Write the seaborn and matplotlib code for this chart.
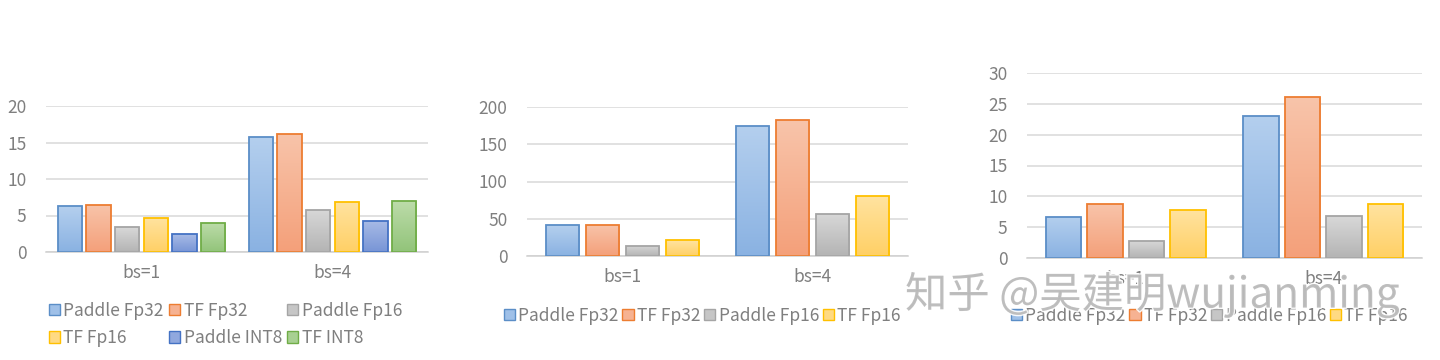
import numpy as np
import pandas as pd
import matplotlib
matplotlib.use("Agg")
import matplotlib.pyplot as plt
import matplotlib.colors as mcolors
import matplotlib.patheffects as pe
from matplotlib.patches import Patch
import seaborn as sns

# ---------------- data ----------------
categories = ["bs=1", "bs=4"]

series1 = ["Paddle Fp32", "TF Fp32", "Paddle Fp16", "TF Fp16", "Paddle INT8", "TF INT8"]
p1_paddle_fp32 = [6.3, 15.8]
p1_tf_fp32 = [6.5, 16.2]
p1_paddle_fp16 = [3.4, 5.8]
p1_tf_fp16 = [4.7, 6.9]
p1_paddle_int8 = [2.4, 4.3]
p1_tf_int8 = [4.0, 7.0]

series23 = ["Paddle Fp32", "TF Fp32", "Paddle Fp16", "TF Fp16"]
p2_paddle_fp32 = [41, 174]
p2_tf_fp32 = [42, 182]
p2_paddle_fp16 = [14, 57]
p2_tf_fp16 = [21, 81]

p3_paddle_fp32 = [6.7, 23.1]
p3_tf_fp32 = [8.8, 26.1]
p3_paddle_fp16 = [2.8, 6.8]
p3_tf_fp16 = [7.8, 8.8]

p1_yticks = [0, 5, 10, 15, 20]
p2_yticks = [0, 50, 100, 150, 200]
p3_yticks = [0, 5, 10, 15, 20, 25, 30]

watermark = "知乎 @吴建明wujianming"

# ---------------- styles ----------------
edge = {"Paddle Fp32": "#5b8ec7", "TF Fp32": "#ed7d31", "Paddle Fp16": "#a5a5a5",
        "TF Fp16": "#ffc000", "Paddle INT8": "#4472c4", "TF INT8": "#70ad47"}
top_c = {"Paddle Fp32": "#b4cfee", "TF Fp32": "#f8c4aa", "Paddle Fp16": "#d8d8d8",
         "TF Fp16": "#ffe3a0", "Paddle INT8": "#a8bbe6", "TF INT8": "#bddcaa"}
bot_c = {"Paddle Fp32": "#8ab2e2", "TF Fp32": "#f4a07a", "Paddle Fp16": "#b4b4b4",
         "TF Fp16": "#ffd066", "Paddle INT8": "#7895d6", "TF INT8": "#92c47a"}
mid_c = {k: mcolors.to_hex((np.array(mcolors.to_rgb(top_c[k])) + np.array(mcolors.to_rgb(bot_c[k]))) / 2)
         for k in edge}

sns.set_theme(style="white")
plt.rcParams["font.family"] = ["Noto Sans CJK SC", "DejaVu Sans"]
TXT = "#7f7f7f"

W, H = 1440, 360
fig = plt.figure(figsize=(14.4, 3.6), dpi=100)
fig.patch.set_facecolor("white")


def make_df(series, arrays):
    rows = []
    for s, arr in zip(series, arrays):
        for c, v in zip(categories, arr):
            rows.append({"bs": c, "series": s, "value": v})
    return pd.DataFrame(rows)


def gradient_bars(ax, series, ncat):
    patches = [p for p in ax.patches]
    for i, p in enumerate(patches):
        s = series[i // ncat]
        x0, y0 = p.get_x(), p.get_y()
        w, h = p.get_width(), p.get_height()
        c1 = np.array(mcolors.to_rgb(top_c[s]))
        c2 = np.array(mcolors.to_rgb(bot_c[s]))
        t = np.linspace(0, 1, 64)[:, None]
        img = (c1[None, :] * (1 - t) + c2[None, :] * t)[:, None, :]
        im = ax.imshow(img, extent=[x0, x0 + w, y0, y0 + h], aspect="auto",
                       origin="upper", zorder=2, interpolation="bilinear")
        im.set_clip_path(p)
        p.set_facecolor("none")
        p.set_edgecolor(edge[s])
        p.set_linewidth(1.3)
        p.set_zorder(3)


def panel(rect_px, series, arrays, yticks, width, gap, legend_kw, order):
    l, r, b, t = rect_px
    ax = fig.add_axes([l / W, b / H, (r - l) / W, (t - b) / H])
    df = make_df(series, arrays)
    sns.barplot(data=df, x="bs", y="value", hue="series", hue_order=series,
                palette=[mid_c[s] for s in series], width=width, gap=gap,
                ax=ax, legend=False, zorder=3)
    gradient_bars(ax, series, len(categories))
    ax.set_xlim(-0.5, 1.5)
    ax.set_ylim(yticks[0], yticks[-1])
    ax.set_yticks(yticks)
    ax.set_yticklabels([str(v) for v in yticks])
    ax.yaxis.grid(True, color="#d9d9d9", linewidth=1.1, zorder=0)
    ax.set_axisbelow(True)
    for sp in ["top", "right", "left"]:
        ax.spines[sp].set_visible(False)
    ax.spines["bottom"].set_color("#d0d0d0")
    ax.spines["bottom"].set_linewidth(1.1)
    ax.tick_params(axis="both", length=0, labelsize=12.5, labelcolor=TXT)
    ax.tick_params(axis="y", pad=14)
    ax.tick_params(axis="x", pad=9)
    ax.set_xlabel("")
    ax.set_ylabel("")
    ax.set_facecolor("none")
    handles = [Patch(facecolor=mid_c[s], edgecolor=edge[s], linewidth=1.0, label=s)
               for s in series]
    handles = [handles[i] for i in order]
    fig.legend(handles=handles, frameon=False, fontsize=12.5,
               labelcolor=TXT, handlelength=0.65, handleheight=0.65,
               handletextpad=0.2, **legend_kw)
    return ax


panel((46, 428, 108, 254), series1,
      [p1_paddle_fp32, p1_tf_fp32, p1_paddle_fp16, p1_tf_fp16, p1_paddle_int8, p1_tf_int8],
      p1_yticks, 0.9, 0.15,
      dict(ncol=3, loc="upper left", bbox_to_anchor=(33 / W, 1 - 286 / H),
           columnspacing=0.3, labelspacing=0.55),
      [0, 3, 1, 4, 2, 5])

panel((527, 908, 104, 253), series23,
      [p2_paddle_fp32, p2_tf_fp32, p2_paddle_fp16, p2_tf_fp16],
      p2_yticks, 0.84, 0.17,
      dict(ncol=4, loc="upper left", bbox_to_anchor=(488 / W, 1 - 291 / H),
           columnspacing=0.2),
      [0, 1, 2, 3])

panel((1027, 1422, 102, 287), series23,
      [p3_paddle_fp32, p3_tf_fp32, p3_paddle_fp16, p3_tf_fp16],
      p3_yticks, 0.84, 0.15,
      dict(ncol=4, loc="upper left", bbox_to_anchor=(995 / W, 1 - 291 / H),
           columnspacing=0.2),
      [0, 1, 2, 3])

fig.text(905 / W, 1 - 295 / H, watermark, fontsize=30.5, color="#b8b8b8",
         alpha=0.9, ha="left", va="center", zorder=10,
         path_effects=[pe.withStroke(linewidth=2, foreground="white")])

fig.savefig("out.png", dpi=100, facecolor="white")
